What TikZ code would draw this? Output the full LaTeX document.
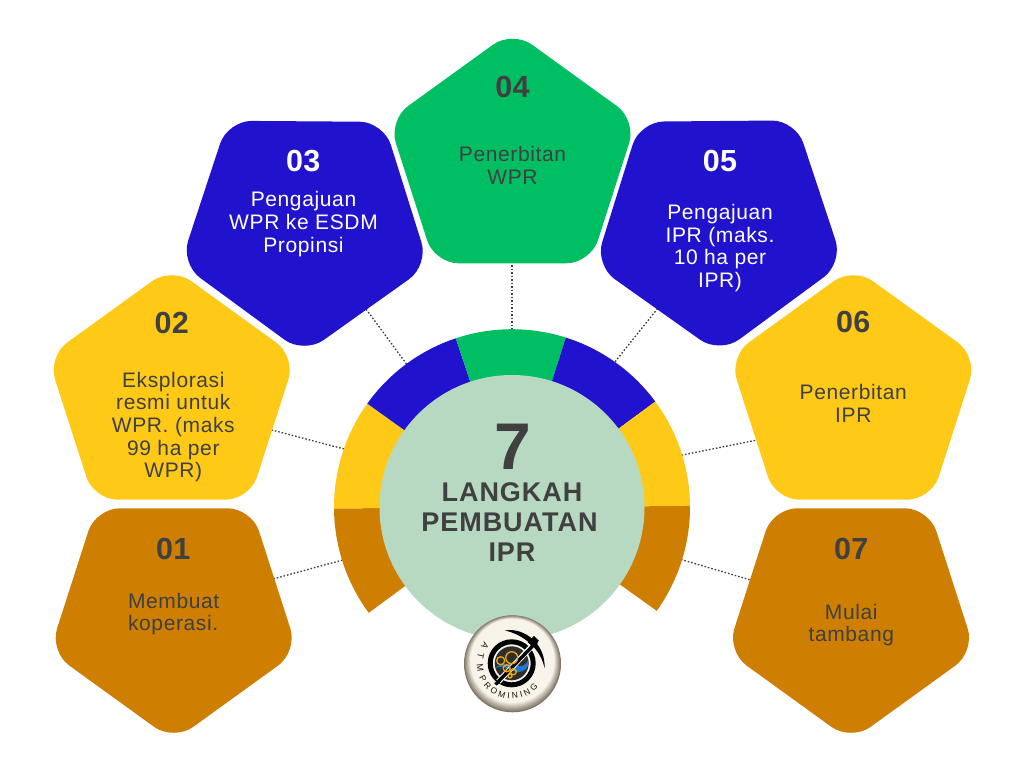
\documentclass[tikz,border=0pt]{standalone}
\usepackage{fontspec}
\usetikzlibrary{calc,decorations.text}
\newfontfamily\bodyf[LetterSpace=3]{Liberation Sans}
\newfontfamily\numf[LetterSpace=1]{Liberation Sans}
\newfontfamily\titlef[LetterSpace=3.5]{Liberation Sans}
\definecolor{cgreen}{HTML}{00BF63}
\definecolor{cblue}{HTML}{2113CD}
\definecolor{cyellow}{HTML}{FFC918}
\definecolor{cbrown}{HTML}{CE7E00}
\definecolor{chub}{HTML}{B7D8C1}
\definecolor{cink}{HTML}{404040}
\definecolor{corange}{HTML}{F2A900}
\definecolor{cwave}{HTML}{1E78D2}
\definecolor{sphlight}{HTML}{F8F4EA}
\definecolor{sphdark}{HTML}{7D7465}
\tikzset{
  numlabel/.style={inner sep=0pt,font=\numf\bfseries\fontsize{30.5}{30.5}\selectfont},
  bodylabel/.style={inner sep=0pt,align=center,font=\bodyf\fontsize{21}{22.7}\selectfont},
  titlelabel/.style={inner sep=0pt,text=cink,font=\titlef\bfseries\fontsize{27}{30}\selectfont},
  link/.style={draw=cink,line width=1.3pt,dash pattern=on 1.6pt off 1.9pt},
  hubdisc/.style={circle,fill=chub,inner sep=0pt,minimum size=265pt}
}
% #1 name, #2 cx, #3 apex y, #4 direction (1 = apex up, -1 = apex down), #5 colour, #6 tilt
\newcommand{\pentagonshape}[6]{%
  \coordinate (#1) at (#2,#3+#4*116);
  \fill[#5,rounded corners=24pt,shift={(#2,#3)},rotate=#6,yscale=#4]
    (0,232.7) -- (-78,232.7) -- (-124,89.6) -- (0,0) -- (124,89.6) -- (78,232.7) -- cycle;
}
\newcommand{\ringsegment}[3]{%
  \fill[#1] ($(hub)+(#2:178)$) arc[start angle=#2,end angle=#3,radius=178]
    -- ($(hub)+(#3:130)$) arc[start angle=#3,end angle=#2,radius=130] -- cycle;
}
\begin{document}
\begin{tikzpicture}[x=1pt,y=-1pt]
\useasboundingbox (0,0) rectangle (1024,768);
\fill[white] (0,0) rectangle (1024,768);

% connector ends
\coordinate (e1a) at (270,579.8);  \coordinate (e1b) at (345,559.4);
\coordinate (e2a) at (268,429);    \coordinate (e2b) at (348,450);
\coordinate (e3a) at (362,303.6);  \coordinate (e3b) at (408,366);
\coordinate (e4a) at (512,258);    \coordinate (e4b) at (512,335);
\coordinate (e5a) at (662,303);    \coordinate (e5b) at (612,365.6);
\coordinate (e6a) at (762,439);    \coordinate (e6b) at (676,456.3);
\coordinate (e7a) at (753,580.7);  \coordinate (e7b) at (676,558);
\foreach \n in {1,...,7}{\draw[link] (e\n a) -- (e\n b);}

% pentagons
\pentagonshape{p01}{173.7}{741}{-1}{cbrown}{0}
\pentagonshape{p02}{171.7}{267}{1}{cyellow}{0}
\pentagonshape{p03}{304}{354}{-1}{cblue}{-0.4}
\pentagonshape{p04}{512.5}{30.6}{1}{cgreen}{0}
\pentagonshape{p05}{719.8}{353.7}{-1}{cblue}{0.5}
\pentagonshape{p06}{853.3}{267}{1}{cyellow}{0}
\pentagonshape{p07}{851}{741}{-1}{cbrown}{0}

% ring and hub
\coordinate (hub) at (512,507.2);
\ringsegment{cbrown}{143.6}{179.6}
\ringsegment{cyellow}{179.6}{215.6}
\ringsegment{cblue}{215.6}{251.6}
\ringsegment{cgreen}{251.6}{287.6}
\ringsegment{cblue}{287.6}{323.6}
\ringsegment{cyellow}{323.6}{359.6}
\ringsegment{cbrown}{359.6}{395.6}
\node[hubdisc] (hubdisc) at (512,507.5) {};

% hub text
\node[inner sep=0pt,text=cink,font=\numf\bfseries\fontsize{66}{66}\selectfont] (seven) at (512.5,447) {7};
\node[titlelabel] (t1) at (512,492) {LANGKAH};
\node[titlelabel] (t2) at (509.5,522.3) {PEMBUATAN};
\node[titlelabel] (t3) at (512,552.3) {IPR};

% pentagon text
\node[numlabel,text=cink] (n01) at (173.3,549) {01};
\node[bodylabel,text=cink,align=left] (b01) at (173.7,614) {Membuat\\koperasi.};
\node[numlabel,text=cink] (n02) at (171.7,322.7) {02};
\node[bodylabel,text=cink] (b02) at (173.3,427) {Eksplorasi\\resmi untuk\\WPR. (maks\\99 ha per\\WPR)};
\node[numlabel,text=white] (n03) at (303.3,160.7) {03};
\node[bodylabel,text=white] (b03) at (303.5,224) {Pengajuan\\WPR ke ESDM\\Propinsi};
\node[numlabel,text=cink] (n04) at (512.5,87) {04};
\node[bodylabel,text=cink] (b04) at (512.5,165.4) {Penerbitan\\WPR};
\node[numlabel,text=white] (n05) at (720,160.7) {05};
\node[bodylabel,text=white] (b05) at (720,248) {Pengajuan\\IPR (maks.\\10 ha per\\IPR)};
\node[numlabel,text=cink] (n06) at (853.3,322.3) {06};
\node[bodylabel,text=cink] (b06) at (853.3,403.7) {Penerbitan\\IPR};
\node[numlabel,text=cink] (n07) at (851.3,548.7) {07};
\node[bodylabel,text=cink] (b07) at (851.3,625.2) {Mulai\\tambang};

% logo: a ball built from nested discs
\node[circle,inner sep=0pt,minimum size=97pt,fill=sphdark] (logo) at (512.5,663.8) {};
\foreach \k in {1,...,18}{
  \pgfmathtruncatemacro{\mixval}{min(100,\k*100/13)}
  \fill[sphlight!\mixval!sphdark] (512.5,663.8-0.22*\k) circle[radius=48.5-0.5*\k];
}
\coordinate (em) at (511.7,663.3);
\draw[black,line width=5pt] (em) circle[radius=21.5];
\fill[black!82] (em) circle[radius=17];
\fill[cwave] (495,668) .. controls (505,664) and (510,672) .. (518,672)
  .. controls (524,672) and (530,668) .. (528,660)
  .. controls (527,666) and (520,667) .. (515,665)
  .. controls (508,663) and (500,663) .. (495,668) -- cycle;
\draw[white,line width=5.5pt] (498.3,681.7) -- (533,645);
\draw[black,line width=3.4pt] (495.5,684.5) -- (536.7,641.7);
\fill[black] (505,630.5) .. controls (525,627) and (546,645) .. (544.5,668)
  .. controls (541,650) and (525,635) .. (505,630.5) -- cycle;
\fill[black,rotate around={45:(533.3,641.7)}] (529,638) rectangle (538,645);
\foreach \px/\py/\pr in {511.7/657.7/6,500.7/660.7/4,506.7/668.3/3.5,513.3/671.7/3,510/676/2}{
  \draw[corange,line width=1.3pt] (\px,\py) circle[radius=\pr];}
\path[decorate,decoration={text along path,text align={fit to path},
  text={|\numf\fontsize{9}{9}\selectfont\color{black!85!brown}|ATM}}]
  ($(em)+(218:35)$) arc[start angle=218,end angle=166,radius=35];
\path[decorate,decoration={text along path,text align={fit to path},
  text={|\numf\fontsize{8.5}{8.5}\selectfont\color{black!85!brown}|PROMINING}}]
  ($(em)+(156:35.5)$) arc[start angle=156,end angle=42,radius=35.5];
\end{tikzpicture}
\end{document}
